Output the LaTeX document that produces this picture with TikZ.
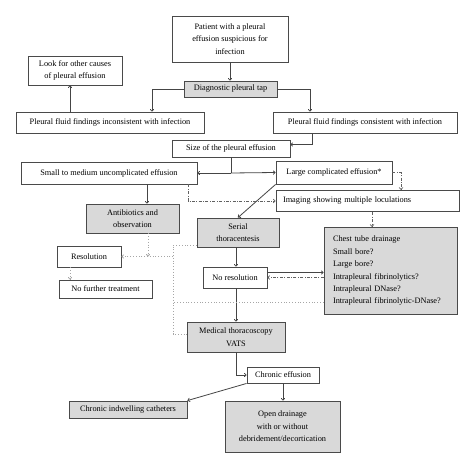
\documentclass[tikz,border=0pt]{standalone}
\usepackage{fontspec}
\setmainfont{Liberation Serif}
\usetikzlibrary{arrows.meta,calc}
\definecolor{boxfill}{HTML}{D9D9D9}
\definecolor{edge}{HTML}{4A4A4A}
\definecolor{lnk}{HTML}{454545}
\begin{document}
\begin{tikzpicture}[x=1pt,y=-1pt,
  font=\fontsize{8.3}{12.4}\selectfont,
  box/.style={draw=edge,line width=0.9pt,fill=white,inner sep=1pt,align=center,anchor=center},
  gbox/.style={box,fill=boxfill},
  conn/.style={draw=lnk,line width=0.8pt,-{To[length=2.6pt,width=4.2pt]}},
  plain/.style={draw=lnk,line width=0.8pt},
  dd/.style={draw=lnk!85,line width=0.7pt,dash pattern=on 3pt off 1.5pt on 0.8pt off 1.5pt},
  dt/.style={draw=gray!70,line width=0.8pt,dotted},
  tip/.style={-{To[length=2.6pt,width=4.2pt]}}]
\useasboundingbox[fill=white] (0,0) rectangle (474,468);

\node[box,minimum width=116pt,minimum height=46pt] (patient) at (230,39) {Patient with a pleural\\effusion suspicious for\\infection};
\node[box,minimum width=94pt,minimum height=29pt] (look) at (75,70.5) {Look for other causes\\of pleural effusion};
\node[gbox,minimum width=93pt,minimum height=16pt] (tap) at (230.5,89) {Diagnostic pleural tap};
\node[box,minimum width=188pt,minimum height=21pt] (incons) at (110,122.5) {Pleural fluid findings inconsistent with infection};
\node[box,minimum width=184pt,minimum height=21pt] (cons) at (365,122.5) {Pleural fluid findings consistent with infection};
\node[box,minimum width=118pt,minimum height=17pt] (size) at (231,148.5) {Size of the pleural effusion};
\node[box,minimum width=176pt,minimum height=22pt] (small) at (109,173) {Small to medium uncomplicated effusion};
\node[box,minimum width=116pt,minimum height=23pt] (large) at (334,172.5) {\raisebox{1.5pt}{Large complicated effusion*}};
\node[box,minimum width=183pt,minimum height=20pt,text width=169pt,align=left,inner sep=7pt] (imaging) at (367.5,201) {Imaging showing multiple loculations};
\node[gbox,minimum width=93pt,minimum height=29pt] (antib) at (132.5,218.5) {Antibiotics and\\observation};
\node[gbox,minimum width=82pt,minimum height=29pt] (serial) at (238,232.5) {Serial\\thoracentesis};
\node[gbox,minimum width=133pt,minimum height=84pt,text width=115pt,align=left,inner sep=9pt] (chest) at (390.5,271) {Chest tube drainage\\Small bore?\\Large bore?\\Intrapleural fibrinolytics?\\Intrapleural DNase?\\Intrapleural fibrinolytic-DNase?};
\node[box,minimum width=64pt,minimum height=21pt] (resol) at (89,256.5) {Resolution};
\node[box,minimum width=93pt,minimum height=18pt] (nofurther) at (105.5,289) {No further treatment};
\node[box,minimum width=64pt,minimum height=21pt] (nores) at (235,277.5) {No resolution};
\node[gbox,minimum width=98pt,minimum height=30pt] (medical) at (236,337) {Medical thoracoscopy\\VATS};
\node[box,minimum width=72pt,minimum height=16pt] (chronic) at (283,375) {Chronic effusion};
\node[gbox,minimum width=118pt,minimum height=17pt] (indwell) at (128,409.5) {Chronic indwelling catheters};
\node[gbox,minimum width=115pt,minimum height=51pt] (open) at (282.5,426.5) {Open drainage\\with or without\\debridement/decortication};

% named free ends
\coordinate (c1) at ([xshift=42pt]incons.north);
\coordinate (c2) at ([xshift=-55pt]cons.north);
\coordinate (c3) at ([xshift=-40pt]incons.north);
\coordinate (c4) at ([xshift=-53pt]cons.south);
\coordinate (split) at (size.south |- small.east);
\coordinate (c5) at ([xshift=38pt]small.south);
\coordinate (c6) at ([xshift=79pt]small.south);
\coordinate (c7) at ([xshift=33.5pt]imaging.north);
\coordinate (c8) at ([xshift=4.5pt]imaging.south);
\coordinate (c9) at ([xshift=15.5pt]antib.south);
\coordinate (ds) at ([yshift=-12.5pt]serial.west);
\coordinate (dtop) at (173,245);
\coordinate (dbot) at (173,334);
\coordinate (dm) at ([yshift=3pt]medical.west);
\coordinate (dc) at ([yshift=-31pt]chest.west);
\coordinate (c10) at ([xshift=-19pt]resol.south);
\coordinate (c11) at ([yshift=5pt]nores.east);
\coordinate (c12) at ([xshift=1pt]nores.north);
\coordinate (c13) at ([xshift=1pt]nores.south);

% solid connectors
\draw[conn] (patient.south) -- (patient.south |- tap.north);
\draw[conn] (tap.west) -| (c1);
\draw[conn] (tap.east) -| (c2);
\draw[conn] (c3) -- (c3 |- look.south);
\draw[conn] (c4) |- ([yshift=4pt]size.east);
\draw[plain] (size.south) -- (split);
\draw[conn] (split) -- (small.east);
\draw[conn] (split) -- (large.west);
\draw[conn] (c5) -- (c5 |- antib.north);
\draw[conn] (large.south west) -- (serial.north);
\draw[conn] (c12 |- serial.south) -- (c12);
\draw[conn] (c11) -- (c11 -| chest.west);
\draw[conn] (c13) -- (c13 |- medical.north);
\draw[conn] (medical.south) |- (chronic.west);
\draw[conn] (chronic.south) -- (chronic.south |- open.north);
\draw[conn] (chronic.south west) -- (indwell.north east);

% dash-dot connectors
\draw[dd,tip] (c6) |- (imaging.west);
\draw[dd,tip] (large.east) -| (c7);
\draw[dd,tip] (c8) -- (c8 |- chest.north);
\draw[dd,tip] (nores.east -| chest.west) -- (nores.east);

% dotted connectors
\draw[dt,tip] (c9) -- (c9 |- resol.east);
\draw[dt] (ds) -- (dtop) -- (dbot) -- (dm);
\draw[dt,tip] (dtop |- resol.east) -- (resol.east);
\draw[dt] (dc) -- (dtop |- dc);
\draw[dt,tip] (c10) -- (c10 |- nofurther.north);
\end{tikzpicture}
\end{document}
